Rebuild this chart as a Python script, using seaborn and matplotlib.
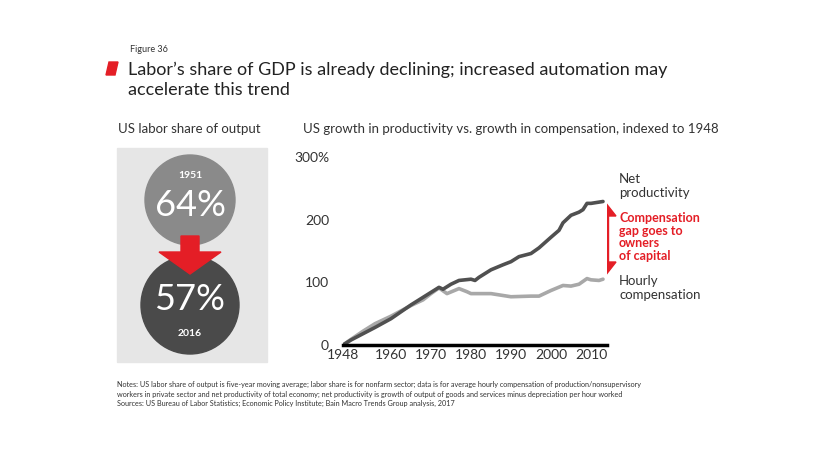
import numpy as np
import matplotlib
matplotlib.use('Agg')
import matplotlib.pyplot as plt
from matplotlib.patches import Rectangle, Circle, Polygon
import pandas as pd
import seaborn as sns

sns.set_style('white')
plt.rcParams['font.family'] = ['Lato', 'DejaVu Sans']

# data
prod_years = [1948, 1950, 1953, 1956, 1960, 1965, 1968, 1970, 1972, 1973, 1975, 1977, 1980, 1981, 1982,
              1985, 1988, 1990, 1992, 1995, 1997, 2000, 2002, 2003, 2005, 2007, 2008, 2009, 2010, 2013]
prod_vals = [0, 8, 18, 28, 42, 64, 76, 84, 92, 89, 97, 103, 105, 103, 108,
             120, 128, 133, 141, 146, 155, 172, 183, 195, 207, 212, 216, 226, 226, 229]
comp_years = [1948, 1950, 1953, 1956, 1960, 1965, 1968, 1970, 1972, 1974, 1977, 1979, 1980, 1985,
              1990, 1995, 1997, 2000, 2003, 2005, 2007, 2009, 2010, 2012, 2013]
comp_vals = [0, 9, 22, 34, 46, 63, 72, 82, 91, 82, 90, 85, 82, 82,
             77, 78, 78, 87, 95, 94, 97, 106, 104, 103, 105]
share_1951 = 64
share_2016 = 57

W, H = 813, 457
fig = plt.figure(figsize=(W / 100, H / 100), dpi=100)

# decoration layer in pixel coords
bg = fig.add_axes([0, 0, 1, 1])
bg.set_xlim(0, W)
bg.set_ylim(H, 0)
bg.axis('off')


def double_arrow(ax, x, top, bottom, shaft, head, head_len, zorder=5):
    pts = [[x, top], [x + head / 2, top + head_len], [x + shaft / 2, top + head_len],
           [x + shaft / 2, bottom - head_len], [x + head / 2, bottom - head_len], [x, bottom],
           [x - head / 2, bottom - head_len], [x - shaft / 2, bottom - head_len],
           [x - shaft / 2, top + head_len], [x - head / 2, top + head_len]]
    ax.add_patch(Polygon(pts, color='#e41e26', zorder=zorder))


bg.text(130, 50, 'Figure 36', fontsize=6.5, color='#333333', va='center')
bg.add_patch(Polygon([[109, 62], [118, 62], [115, 75], [106, 75]], color='#e41e26'))
bg.text(128, 70, "Labor’s share of GDP is already declining; increased automation may",
        fontsize=13, color='#222222', va='center')
bg.text(128, 90, 'accelerate this trend', fontsize=13, color='#222222', va='center')

bg.text(118, 129, 'US labor share of output', fontsize=9.5, color='#333333', va='center')
bg.text(303, 129, 'US growth in productivity vs. growth in compensation, indexed to 1948',
        fontsize=9.5, color='#333333', va='center')

# left panel
bg.add_patch(Rectangle((117, 148), 150, 214, color='#e6e6e6'))
bg.add_patch(Circle((190, 200), 45, color='#8a8a8a'))
bg.add_patch(Circle((190, 305), 49, color='#4a4a4a'))
arrow = [[181, 236], [199, 236], [199, 252], [221, 252], [190, 274], [159, 252], [181, 252]]
bg.add_patch(Polygon(arrow, color='#e41e26', zorder=5))
bg.text(190, 176, '1951', fontsize=7.5, color='white', ha='center', va='center', weight='bold')
bg.text(190, 206, f'{share_1951}%', fontsize=26, color='white', ha='center', va='center')
bg.text(190, 300, f'{share_2016}%', fontsize=26, color='white', ha='center', va='center')
bg.text(190, 334, '2016', fontsize=7.5, color='white', ha='center', va='center', weight='bold')

# notes
notes = ("Notes: US labor share of output is five-year moving average; labor share is for nonfarm sector; data is for average hourly compensation of production/nonsupervisory\n"
         "workers in private sector and net productivity of total economy; net productivity is growth of output of goods and services minus depreciation per hour worked\n"
         "Sources: US Bureau of Labor Statistics; Economic Policy Institute; Bain Macro Trends Group analysis, 2017")
bg.text(117, 394, notes, fontsize=5.2, color='#333333', va='center', linespacing=1.35)

# line chart
x0, x1 = 343, 607
y0, y1 = 345, 157
ax = fig.add_axes([x0 / W, 1 - y0 / H, (x1 - x0) / W, (y0 - y1) / H])
prod = pd.DataFrame({'year': prod_years, 'value': prod_vals})
comp = pd.DataFrame({'year': comp_years, 'value': comp_vals})
sns.lineplot(data=comp, x='year', y='value', ax=ax, color='#a8a8a8', lw=2.6)
sns.lineplot(data=prod, x='year', y='value', ax=ax, color='#505050', lw=2.6)
ax.set_xlim(1948, 2014)
ax.set_ylim(0, 300)
ax.set_xticks([1948, 1960, 1970, 1980, 1990, 2000, 2010])
ax.set_yticks([0, 100, 200, 300])
ax.set_yticklabels(['0', '100', '200', '300%'])
ax.tick_params(axis='x', length=0, labelsize=10, colors='#333333', pad=3)
ax.tick_params(axis='y', length=0, labelsize=10, colors='#333333', pad=10)
ax.set_xlabel('')
ax.set_ylabel('')
for s in ['top', 'right', 'left']:
    ax.spines[s].set_visible(False)
ax.spines['bottom'].set_linewidth(2.5)
ax.spines['bottom'].set_color('black')

# annotations
double_arrow(bg, 605, 202, 276, 7, 22, 14)
bg.text(619, 186, 'Net\nproductivity', fontsize=9.5, color='#333333', va='center', linespacing=1.2)
bg.text(619, 237, 'Compensation\ngap goes to\nowners\nof capital', fontsize=9, color='#e41e26',
        weight='bold', va='center', linespacing=1.05)
bg.text(619, 288, 'Hourly\ncompensation', fontsize=9.5, color='#333333', va='center', linespacing=1.2)

fig.savefig('out.png', dpi=100)
